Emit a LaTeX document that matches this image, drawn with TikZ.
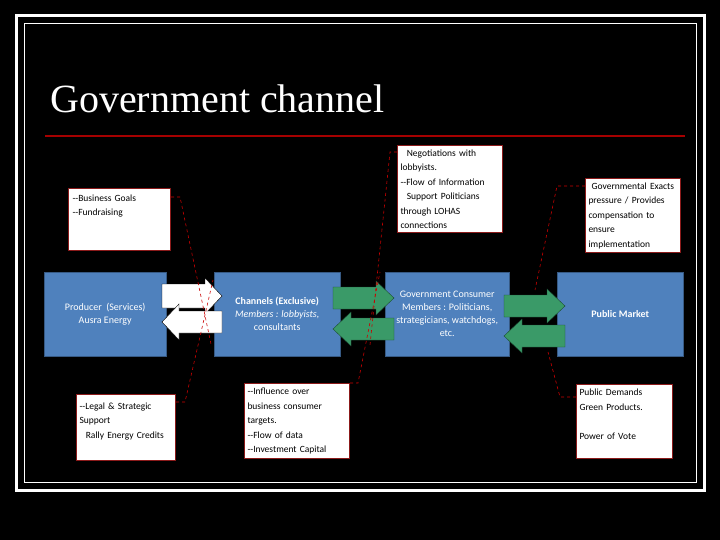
\documentclass[tikz,border=0pt]{standalone}
\usepackage{fontspec}
\setmainfont{Liberation Serif}
\newfontfamily\calfnt{Carlito}
\definecolor{blu}{HTML}{4F81BD}
\definecolor{grn}{HTML}{3A9A68}
\definecolor{dred}{HTML}{8B1A1A}
\begin{document}
\begin{tikzpicture}[x=1pt,y=-1pt,
 blk/.style={draw=blu!70!black,fill=blu,minimum height=84pt,text=white,align=center,font=\calfnt\fontsize{10}{13}\selectfont,anchor=north west},
 call/.style={draw=dred,line width=1pt,fill=white,anchor=north west,align=left,inner sep=3pt,font=\calfnt\fontsize{9.5}{14.5}\selectfont},
 lead/.style={draw=red!80!black,dashed,line width=0.6pt},
 wa/.style={fill=white,draw=black},
 ga/.style={fill=grn,draw=grn!50!black}]
\fill[black] (0,0) rectangle (720,540);
\useasboundingbox (0,0) rectangle (720,540);
\draw[white,line width=3pt] (16,16) rectangle (704,490);
\draw[white,line width=1pt] (24,24) rectangle (696,482);
\node[anchor=base west,text=white,font=\fontsize{40}{44}\selectfont,inner sep=0pt] (title) at (50,113) {Government channel};
\draw[red!65!black,line width=1.2pt] (45,136) -- (685,136);
\node[blk,minimum width=122pt] (p) at (44,272) {Producer\ \ (Services)\\Ausra Energy};
\node[blk,minimum width=126pt] (c) at (214,272) {\textbf{Channels (Exclusive)}\\\textit{Members : lobbyists,}\\consultants};
\node[blk,minimum width=124pt] (g) at (385,272) {Government Consumer\\Members : Politicians,\\strategicians, watchdogs,\\etc.};
\node[blk,minimum width=126pt] (m) at (557,272) {\textbf{Public Market}};
% arrows
\draw[wa] (162,284)--(205,284)--(205,278)--(222,296)--(205,314)--(205,308)--(162,308)--cycle;
\draw[wa] (222,311)--(179,311)--(179,304)--(162,322)--(179,340)--(179,333)--(222,333)--cycle;
\draw[ga] (333,287)--(376,287)--(376,281)--(394,298)--(376,315)--(376,309)--(333,309)--cycle;
\draw[ga] (394,318)--(351,318)--(351,312)--(333,329)--(351,346)--(351,340)--(394,340)--cycle;
\draw[ga] (504,295)--(547,295)--(547,289)--(565,306)--(547,323)--(547,317)--(504,317)--cycle;
\draw[ga] (565,325)--(522,325)--(522,319)--(504,336)--(522,353)--(522,347)--(565,347)--cycle;
\node[call,minimum width=102pt,minimum height=62pt,text width=94pt,anchor=north west,align=left] (A) at (68,188) {--Business Goals\\--Fundraising\\\mbox{}\\\mbox{}};
\node[call,minimum height=87pt,text width=99pt] (B) at (397,145) {\ \ Negotiations with\\lobbyists.\\--Flow of Information\\\ \ Support Politicians\\through LOHAS\\connections};
\node[call,minimum height=74pt,text width=89pt] (C) at (585,178) {\ Governmental Exacts\\pressure / Provides\\compensation to\\ensure\\implementation};
\node[call,minimum height=66pt,text width=93pt] (D) at (76,394) {--Legal \& Strategic\\Support\\\ \ Rally Energy Credits\\\mbox{}};
\node[call,minimum height=75pt,text width=99pt] (E) at (244,383) {--Influence over\\business consumer\\targets.\\--Flow of data\\--Investment Capital};
\node[call,minimum height=74pt,text width=90pt] (F) at (576,384) {Public Demands\\Green Products.\\\mbox{}\\Power of Vote\\\mbox{}};
\coordinate (a) at (180,197); \coordinate (b) at (211,344);
\draw[lead] (A.east|-a) -- (a) -- (b);
\coordinate (d) at (185,402); \coordinate (d2) at (213,280);
\draw[lead] (D.east|-d) -- (d) -- (d2);
\coordinate (e) at (358,383); \coordinate (e2) at (380,272);
\draw[lead] (E.east|-e) -- (e) -- (e2);
\coordinate (bb) at (390,152); \coordinate (bb2) at (370,345);
\draw[lead] (B.west|-bb) -- (bb) -- (bb2);
\coordinate (cc) at (557,186); \coordinate (cc2) at (535,290);
\draw[lead] (C.west|-cc) -- (cc) -- (cc2);
\coordinate (ff) at (560,397); \coordinate (ff2) at (548,352);
\draw[lead] (F.west|-ff) -- (ff) -- (ff2);
\end{tikzpicture}
\end{document}
